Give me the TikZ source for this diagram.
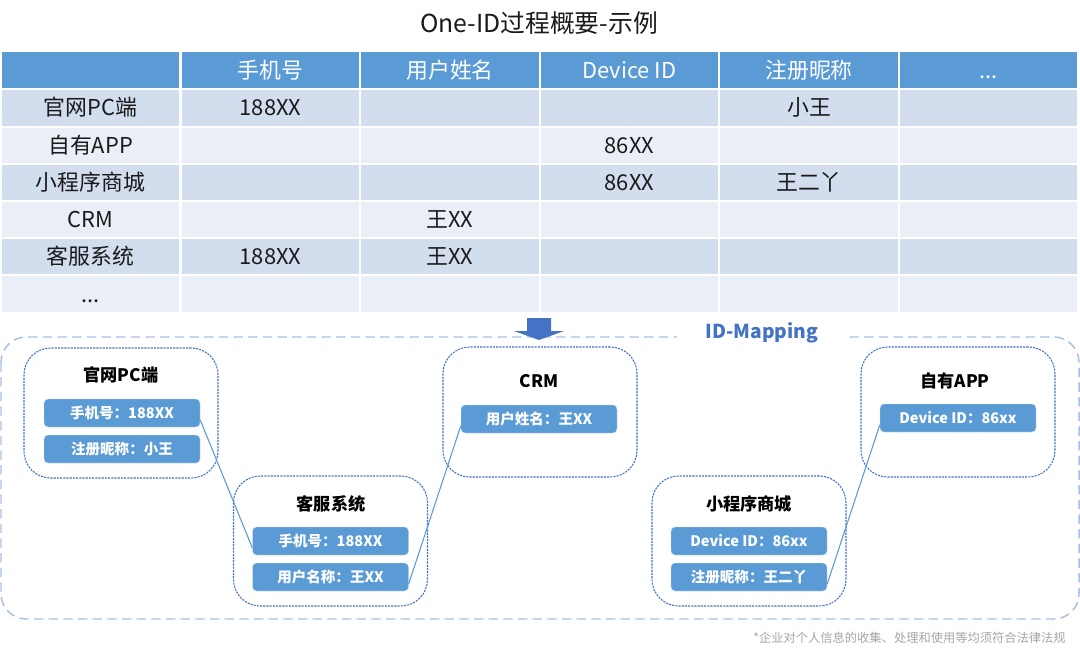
\documentclass[tikz,border=0pt]{standalone}
\usepackage{fontspec}
\setmainfont{Noto Sans CJK SC}
\usetikzlibrary{calc}
\definecolor{hdrblue}{HTML}{5B9BD5}
\definecolor{rowdark}{HTML}{D2DDEE}
\definecolor{rowlight}{HTML}{E9EEF7}
\definecolor{outerdash}{HTML}{A9BFE4}
\definecolor{deepblue}{HTML}{4472C4}
\definecolor{notegrey}{HTML}{A6A6A6}
\definecolor{inktext}{HTML}{1A1A1A}
\newcommand{\tablerow}[9]{%
  \node[cellbox,#3,minimum width=132.9pt] (#1-1) at (90.5,#2) {#4};
  \node[cellbox,#3,minimum width=133.4pt] (#1-2) at (270.5,#2) {#5};
  \node[cellbox,#3,minimum width=133.4pt] (#1-3) at (450,#2) {#6};
  \node[cellbox,#3,minimum width=133.4pt] (#1-4) at (629.5,#2) {#7};
  \node[cellbox,#3,minimum width=133.4pt] (#1-5) at (809,#2) {#8};
  \node[cellbox,#3,minimum width=133.4pt] (#1-6) at (988.5,#2) {#9};
}
\tikzset{
  x=0.75pt,y=-0.75pt,
  cellbox/.style={inner sep=0pt,minimum height=26.7pt,font=\fontsize{16.4}{16.4}\selectfont,text height=15pt,text depth=3pt},
  hdr/.style={fill=hdrblue,text=white,minimum height=27pt,text height=15.5pt},
  rowa/.style={fill=rowdark,text=inktext},
  rowb/.style={fill=rowlight,text=inktext},
  source/.style={draw=deepblue,dash pattern=on 1.6pt off 0.8pt,line width=0.8pt,rounded corners=20pt,minimum width=145.5pt,minimum height=97.5pt,inner sep=0pt},
  pill/.style={fill=hdrblue,draw=white!70!hdrblue,line width=0.3pt,rounded corners=3pt,minimum width=117pt,minimum height=21pt,inner sep=0pt,text=white,font=\bfseries\fontsize{10.9}{10.9}\selectfont,text height=10pt,text depth=2pt},
  srctitle/.style={inner sep=0pt,text=black,font=\bfseries\fontsize{12.9}{12.9}\selectfont,text height=12pt,text depth=2pt},
  linker/.style={draw=hdrblue,line width=0.8pt},
}
\begin{document}
\begin{tikzpicture}
\useasboundingbox (0,0) rectangle (1080,652);
\fill[white] (0,0) rectangle (1080,652);
\node[inner sep=0pt,text=inktext,font=\fontsize{18.6}{18.6}\selectfont] (title) at (539,23) {One-ID过程概要-示例};
\tablerow{h}{70}{hdr}{}{手机号}{用户姓名}{Device ID}{注册昵称}{...}
\tablerow{r1}{108}{rowa}{官网PC端}{188XX}{}{}{小王}{}
\tablerow{r2}{145.5}{rowb}{自有APP}{}{}{86XX}{}{}
\tablerow{r3}{182.5}{rowa}{小程序商城}{}{}{86XX}{王二丫}{}
\tablerow{r4}{219.5}{rowb}{CRM}{}{王XX}{}{}{}
\tablerow{r5}{256.5}{rowa}{客服系统}{188XX}{王XX}{}{}{}
\tablerow{r6}{294}{rowb}{...}{}{}{}{}{}
% outer frame
\draw[outerdash,line width=1.1pt,dash pattern=on 7pt off 4pt,rounded corners=19pt] (1,337) rectangle (1079,619);
\node[fill=white,inner sep=0pt,minimum width=127pt,minimum height=18pt,text=deepblue,font=\bfseries\fontsize{14.4}{14.4}\selectfont,text height=14pt,text depth=4pt] (idmap) at (762,332) {ID-Mapping};
\fill[deepblue] (527,318) -- (551,318) -- (551,331) -- (564,331) -- (539,340) -- (514,331) -- (527,331) -- cycle;
% sources
\node[source] (s1) at (121,413) {};
\node[srctitle] (s1t) at (121,375) {官网PC端};
\node[pill] (s1a) at (122,413) {手机号：188XX};
\node[pill] (s1b) at (122,449) {注册昵称：小王};
\node[source] (s2) at (330.5,541) {};
\node[srctitle] (s2t) at (331,504) {客服系统};
\node[pill] (s2a) at (330.5,541) {手机号：188XX};
\node[pill] (s2b) at (330.5,577) {用户名称：王XX};
\node[source] (s3) at (540,412) {};
\node[srctitle] (s3t) at (539,381) {CRM};
\node[pill] (s3a) at (539,419) {用户姓名：王XX};
\node[source] (s4) at (749,541) {};
\node[srctitle] (s4t) at (749,504) {小程序商城};
\node[pill] (s4a) at (749,541) {Device ID：86xx};
\node[pill] (s4b) at (749,577) {注册昵称：王二丫};
\node[source] (s5) at (958,412) {};
\node[srctitle] (s5t) at (955,381) {自有APP};
\node[pill] (s5a) at (958,418) {Device ID：86xx};
% links
\draw[linker] (s1a.-5) -- (s2a.185);
\draw[linker] (s2b.-5) -- (s3a.185);
\draw[linker] (s4b.-5) -- (s5a.185);
\node[inner sep=0pt,anchor=east,text=notegrey,font=\fontsize{9.2}{9.2}\selectfont] (note) at (1066,638) {*企业对个人信息的收集、处理和使用等均须符合法律法规};
\end{tikzpicture}
\end{document}
